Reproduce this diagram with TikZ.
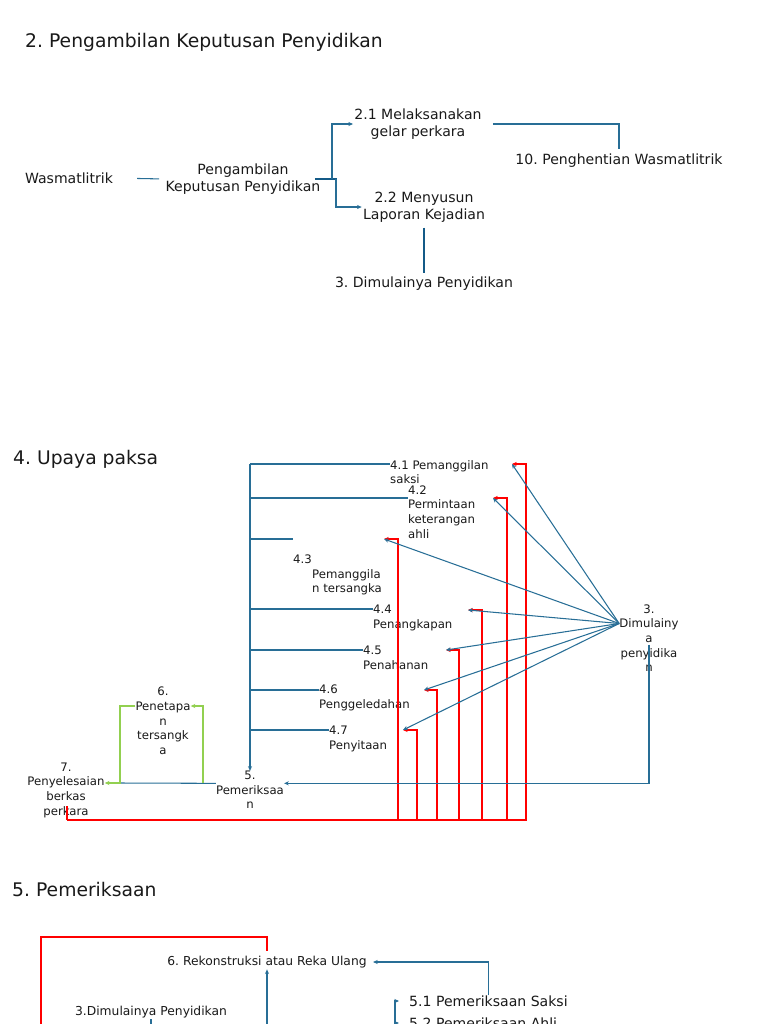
\documentclass[tikz,border=0pt]{standalone}
\usepackage{fontspec}
\setmainfont{DejaVu Sans}
\usepackage{tikz}
\usetikzlibrary{arrows.meta,positioning,calc}
\definecolor{lineblue}{RGB}{40,110,150}
\definecolor{darkblue}{RGB}{20,90,135}
\definecolor{lgreen}{RGB}{146,208,80}
\definecolor{txt}{RGB}{25,25,25}
\frenchspacing

\begin{document}
\begin{tikzpicture}[
  x=0.03cm, y=-0.03cm,
  ttl/.style={anchor=west,inner sep=0pt,font=\fontsize{16}{19}\selectfont,text=txt},
  txtc/.style={align=center,inner sep=1pt,font=\fontsize{12}{14.5}\selectfont,text=txt},
  txtl/.style={align=left,anchor=west,inner sep=0pt,font=\fontsize{12}{14.5}\selectfont,text=txt},
  midc/.style={align=center,inner sep=1pt,font=\fontsize{10.5}{13}\selectfont,text=txt},
  smallc/.style={align=center,inner sep=0pt,font=\fontsize{10}{12.5}\selectfont,text=txt},
  smalll/.style={smallc,align=left,anchor=west},
  bl/.style={draw=lineblue,line width=0.9pt},
  blthick/.style={draw=darkblue,line width=1.6pt},
  rd/.style={draw=red,line width=1pt},
  gr/.style={draw=lgreen,line width=1pt},
  tip/.style={-{Stealth[length=4pt,width=3.5pt]}},
]
\useasboundingbox (0,0) rectangle (768,1024);
\clip (0,0) rectangle (768,1024);

% 2. Pengambilan Keputusan Penyidikan
\node[ttl] (t2) at (25,42) {2. Pengambilan Keputusan Penyidikan};
\node[txtc] (wasmat) at (69,178) {Wasmatlitrik};
\node[txtc] (pkp) at (243,179) {Pengambilan\\Keputusan Penyidikan};
\node[txtc] (s21) at (418,124) {2.1 Melaksanakan\\gelar perkara};
\node[txtc] (s22) at (424,207) {2.2 Menyusun\\Laporan Kejadian};
\node[txtc] (s10) at (619,161) {10. Penghentian Wasmatlitrik};
\node[txtc] (s3) at (424,284) {3. Dimulainya Penyidikan};
\coordinate (pj) at (336,179);
\coordinate (pk) at (332,179);

\draw[bl,shorten <=0.68cm,shorten >=0.15cm] (wasmat.east) -- (pkp.west);
\draw[blthick] ([xshift=-0.21cm]pkp.east) -- (pj) -- ++(0,8);
\draw[bl,tip] (pj) |- (s22.west);
\draw[bl,tip] (pk) |- (s21.west);
\draw[bl,shorten <=0.3cm] (s21.east) -| ([yshift=0.1cm]s10.north);
\draw[blthick,shorten <=0.12cm,shorten >=0.08cm] (s22.south) -- (s3.north);

% 4. Upaya paksa
\node[ttl] (t4) at (13,459) {4. Upaya paksa};
\node[smalll] (u41) at (390,472) {4.1 Pemanggilan\\saksi};
\node[smalll] (u42) at (408,512) {4.2\\Permintaan\\keterangan\\ahli};
\node[smalll] (u43) at (293,575) {4.3\\\hspace*{0.57cm}Pemanggila\\\hspace*{0.57cm}n tersangka};
\node[smalll] (u44) at (373,618) {4.4\\Penangkapan};
\node[smalll] (u45) at (363,658) {4.5\\Penahanan};
\node[smalll] (u46) at (319,698) {4.6\\Penggeledahan};
\node[smalll] (u47) at (329,739) {4.7\\Penyitaan};
\node[smallc] (d3) at (649,638) {3.\\Dimulainy\\a\\penyidika\\n};
\node[smallc] (n5) at (250,790) {5.\\Pemeriksaa\\n};
\node[smallc] (n6) at (163,721) {6.\\Penetapa\\n\\tersangk\\a};
\node[smallc] (n7) at (66,790) {7.\\Penyelesaian\\berkas\\perkara};

\coordinate (b41) at (250,464);
\coordinate (b42) at (250,498);
\coordinate (b43) at (250,539);
\coordinate (b44) at (250,609);
\coordinate (b45) at (250,650);
\coordinate (b46) at (250,690);
\coordinate (b47) at (250,730);
\coordinate (a41) at (512,464);
\coordinate (a42) at (493,498);
\coordinate (a43) at (384,539);
\coordinate (a44) at (468,610);
\coordinate (a45) at (446,650);
\coordinate (a46) at (424,690);
\coordinate (a47) at (403,730);
\coordinate (fan) at ([yshift=0.435cm]d3.west);
\coordinate (rb0) at (67,806);
\coordinate (rb) at (67,820);
\coordinate (g1) at (120,783);
\coordinate (g2) at (203,783);

\draw[bl,tip] (b41) -- (n5.north);
\draw[bl] (b41) -- (b41 -| u41.west);
\draw[bl] (b42) -- (b42 -| u42.west);
\draw[bl] (b43) -- (b43 -| u43.west);
\draw[bl] (b44) -- (b44 -| u44.west);
\draw[bl] (b45) -- (b45 -| u45.west);
\draw[bl] (b46) -- (b46 -| u46.west);
\draw[bl] (b47) -- (b47 -| u47.west);

\draw[rd] (rb0) -- (rb);
\draw[rd,tip] (rb) -| ([xshift=0.42cm]a41) -- (a41);
\draw[rd,tip] (rb) -| ([xshift=0.42cm]a42) -- (a42);
\draw[rd,tip] (rb) -| ([xshift=0.42cm]a43) -- (a43);
\draw[rd,tip] (rb) -| ([xshift=0.42cm]a44) -- (a44);
\draw[rd,tip] (rb) -| ([xshift=0.39cm]a45) -- (a45);
\draw[rd,tip] (rb) -| ([xshift=0.39cm]a46) -- (a46);
\draw[rd,tip] (rb) -| ([xshift=0.42cm]a47) -- (a47);

\draw[bl,tip] (fan) -- (a41);
\draw[bl,tip] (fan) -- (a42);
\draw[bl,tip] (fan) -- (a43);
\draw[bl,tip] (fan) -- (a44);
\draw[bl,tip] (fan) -- (a45);
\draw[bl,tip] (fan) -- (a46);
\draw[bl,tip] (fan) -- (a47);

\draw[bl,tip] ([yshift=-0.2cm]d3.center) |- ([yshift=0.2cm]n5.east);
\draw[bl] ([yshift=0.2cm]n5.west) -- (g1);
\draw[gr,tip] ([yshift=0.45cm]n6.west) -| (g1) -- (g1 -| n7.east);
\draw[gr,tip] (g2) |- ([yshift=0.45cm]n6.east);

% 5. Pemeriksaan
\node[ttl] (t5) at (12,889) {5. Pemeriksaan};
\node[midc] (r6) at (267,962) {6. Rekonstruksi atau Reka Ulang};
\node[midc] (d3b) at (151,1012) {3.Dimulainya Penyidikan};
\node[txtl] (p51) at (409,1001) {5.1 Pemeriksaan Saksi};
\node[txtl] (p52) at (409,1023) {5.2 Pemeriksaan Ahli};
\coordinate (rz) at (41,1030);
\coordinate (rtop) at (267,937);
\coordinate (bz) at (267,1030);
\coordinate (bk) at (395,1030);

\draw[rd] (rz) |- (rtop) -- ([yshift=0.12cm]r6.north);
\draw[bl,tip] (bz) -- (r6.south);
\draw[bl,tip,shorten >=0.15cm] (p51.north) |- (r6.east);
\draw[bl,tip,shorten >=0.3cm] (bk) |- (p51.west);
\draw[bl,tip,shorten >=0.3cm] (bk) |- (p52.west);
\draw[bl] (d3b.south) -- ++(0,10);

\end{tikzpicture}
\end{document}
